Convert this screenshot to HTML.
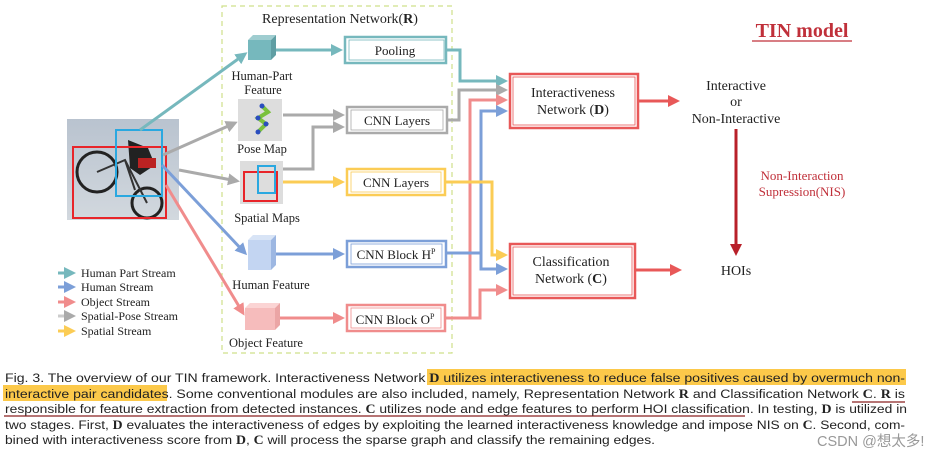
<!DOCTYPE html>
<html><head><meta charset="utf-8"><style>
html,body{margin:0;padding:0;background:#fff;width:946px;height:460px;overflow:hidden}
svg{display:block}
.s{font-family:"Liberation Serif",serif;fill:#222}
.c{font-family:"Liberation Sans","Noto Sans CJK SC",sans-serif;font-size:12.3px;fill:#222}
</style></head><body>
<svg width="946" height="460" viewBox="0 0 946 460" xmlns="http://www.w3.org/2000/svg">
<defs>
<marker id="at" markerWidth="4" markerHeight="4" refX="3" refY="2" orient="auto" markerUnits="strokeWidth"><path d="M0,0 L4,2 L0,4z" fill="#76b8bd"/></marker>
<marker id="ag" markerWidth="4" markerHeight="4" refX="3" refY="2" orient="auto" markerUnits="strokeWidth"><path d="M0,0 L4,2 L0,4z" fill="#aaa"/></marker>
<marker id="ab" markerWidth="4" markerHeight="4" refX="3" refY="2" orient="auto" markerUnits="strokeWidth"><path d="M0,0 L4,2 L0,4z" fill="#7c9fd8"/></marker>
<marker id="ap" markerWidth="4" markerHeight="4" refX="3" refY="2" orient="auto" markerUnits="strokeWidth"><path d="M0,0 L4,2 L0,4z" fill="#f08c8c"/></marker>
<marker id="ay" markerWidth="4" markerHeight="4" refX="3" refY="2" orient="auto" markerUnits="strokeWidth"><path d="M0,0 L4,2 L0,4z" fill="#fbcc55"/></marker>
<marker id="ar" markerWidth="4" markerHeight="4" refX="3" refY="2" orient="auto" markerUnits="strokeWidth"><path d="M0,0 L4,2 L0,4z" fill="#e85858"/></marker>
<marker id="ad" markerWidth="4" markerHeight="4" refX="3" refY="2" orient="auto" markerUnits="strokeWidth"><path d="M0,0 L4,2 L0,4z" fill="#b8202a"/></marker>
<linearGradient id="sky" x1="0" y1="0" x2="0" y2="1"><stop offset="0" stop-color="#b9c3cf"/><stop offset="1" stop-color="#d2d8de"/></linearGradient>
</defs>

<rect x="222" y="6" width="230" height="347" fill="none" stroke="#cfe08a" stroke-width="1.2" stroke-dasharray="5,4"/>
<text x="340" y="23" class="s" font-size="14" text-anchor="middle">Representation Network(<tspan font-weight="bold">R</tspan>)</text>

<rect x="67" y="119" width="112" height="101" fill="url(#sky)"/>
<circle cx="97" cy="172" r="20" fill="none" stroke="#222" stroke-width="3"/>
<circle cx="147" cy="203" r="15" fill="none" stroke="#222" stroke-width="3"/>
<path d="M97,172 L125,160 L147,203 M125,160 L135,190" stroke="#333" stroke-width="2" fill="none"/>
<path d="M128,140 L148,148 L155,165 L140,175 L130,168z" fill="#222"/>
<rect x="138" y="158" width="18" height="10" fill="#b22"/>
<rect x="73" y="147" width="93" height="71" fill="none" stroke="#e8252a" stroke-width="2"/>
<rect x="116" y="130" width="46" height="66" fill="none" stroke="#2aa8e0" stroke-width="2"/>

<g stroke-width="3" fill="none">
<line x1="140" y1="130" x2="245" y2="54" stroke="#76b8bd" marker-end="url(#at)"/>
<line x1="163" y1="155" x2="235" y2="123" stroke="#aaa" marker-end="url(#ag)"/>
<line x1="179" y1="170" x2="237" y2="181" stroke="#aaa" marker-end="url(#ag)"/>
<line x1="162" y1="165" x2="245" y2="253" stroke="#7c9fd8" marker-end="url(#ab)"/>
<line x1="166" y1="185" x2="243" y2="313" stroke="#f08c8c" marker-end="url(#ap)"/>
</g>

<g>
<path d="M248,40 L253,35 L276,35 L271,40z" fill="#9fcdd0"/>
<path d="M271,40 L276,35 L276,55 L271,60z" fill="#5f9ea3"/>
<rect x="248" y="40" width="23" height="20" fill="#76b8bd"/>
<text x="262" y="80" class="s" font-size="12.5" text-anchor="middle">Human-Part</text>
<text x="263" y="94" class="s" font-size="12.5" text-anchor="middle">Feature</text>

<rect x="238" y="99" width="44" height="42" fill="#ddd"/>
<path d="M262,106 L268,112 L258,118 L266,124 L258,132" stroke="#7ac13c" stroke-width="4" fill="none"/>
<circle cx="262" cy="106" r="2.5" fill="#2a4dbe"/><circle cx="258" cy="118" r="2.5" fill="#2a4dbe"/><circle cx="266" cy="124" r="2.5" fill="#2a4dbe"/><circle cx="258" cy="132" r="2.5" fill="#2a4dbe"/>
<text x="262" y="153" class="s" font-size="12.5" text-anchor="middle">Pose Map</text>

<rect x="240" y="161" width="43" height="43" fill="#ddd"/>
<rect x="244" y="172" width="33" height="29" fill="none" stroke="#e8252a" stroke-width="2"/>
<rect x="258" y="166" width="17" height="27" fill="none" stroke="#2aa8e0" stroke-width="2"/>
<text x="267" y="222" class="s" font-size="12.5" text-anchor="middle">Spatial Maps</text>

<path d="M248,240 L253,235 L276,235 L271,240z" fill="#d8e4f6"/>
<path d="M271,240 L276,235 L276,265 L271,270z" fill="#9db7e2"/>
<rect x="248" y="240" width="23" height="30" fill="#c3d5f2"/>
<text x="271" y="289" class="s" font-size="12.5" text-anchor="middle">Human Feature</text>

<path d="M245,308 L250,303 L280,303 L275,308z" fill="#fbd4d4"/>
<path d="M275,308 L280,303 L280,325 L275,330z" fill="#eba5a5"/>
<rect x="245" y="308" width="30" height="22" fill="#f6bcbc"/>
<text x="266" y="347" class="s" font-size="12.5" text-anchor="middle">Object Feature</text>
</g>

<g stroke-width="3" fill="none">
<line x1="276" y1="50" x2="340" y2="50" stroke="#76b8bd" marker-end="url(#at)"/>
<line x1="283" y1="115" x2="342" y2="115" stroke="#aaa" marker-end="url(#ag)"/>
<polyline points="283,169 313,169 313,127 342,127" stroke="#aaa" marker-end="url(#ag)"/>
<line x1="283" y1="182" x2="342" y2="182" stroke="#fbcc55" marker-end="url(#ay)"/>
<line x1="276" y1="254" x2="342" y2="254" stroke="#7c9fd8" marker-end="url(#ab)"/>
<line x1="280" y1="318" x2="342" y2="318" stroke="#f08c8c" marker-end="url(#ap)"/>
</g>

<g fill="#fff" stroke-width="2.5">
<rect x="345" y="37" width="101" height="26" stroke="#76b8bd"/>
<rect x="347" y="107" width="100" height="26" stroke="#aaa"/>
<rect x="347" y="169" width="98" height="26" stroke="#fbcc55"/>
<rect x="347" y="241" width="99" height="26" stroke="#7c9fd8"/>
<rect x="347" y="305" width="98" height="26" stroke="#f08c8c"/>
</g>
<g fill="none" stroke-width="0.8">
<rect x="349" y="40" width="95" height="20" stroke="#76b8bd"/>
<rect x="351" y="110" width="92" height="20" stroke="#aaa"/>
<rect x="351" y="172" width="90" height="20" stroke="#fbcc55"/>
<rect x="351" y="244" width="91" height="20" stroke="#7c9fd8"/>
<rect x="351" y="308" width="90" height="20" stroke="#f08c8c"/>
</g>
<g class="s" font-size="13" text-anchor="middle">
<text x="395" y="55">Pooling</text>
<text x="397" y="125">CNN Layers</text>
<text x="396" y="187">CNN Layers</text>
<text x="396" y="259">CNN Block H<tspan font-size="8" dy="-5">P</tspan></text>
<text x="395" y="324">CNN Block O<tspan font-size="8" dy="-5">P</tspan></text>
</g>

<g stroke-width="3" fill="none">
<polyline points="446,50 460,50 460,81 505,81" stroke="#76b8bd" marker-end="url(#at)"/>
<polyline points="447,120 459,120 459,90 505,90" stroke="#aaa" marker-end="url(#ag)"/>
<polyline points="445,318 470,318 470,100 505,100" stroke="#f08c8c" marker-end="url(#ap)"/>
<polyline points="470,318 480,318 480,290 505,290" stroke="#f08c8c" marker-end="url(#ap)"/>
<polyline points="446,253 481,253 481,111 505,111" stroke="#7c9fd8" marker-end="url(#ab)"/>
<polyline points="481,253 481,269 505,269" stroke="#7c9fd8" marker-end="url(#ab)"/>
<polyline points="445,182 492,182 492,255 505,255" stroke="#fbcc55" marker-end="url(#ay)"/>
</g>

<rect x="510" y="74" width="128" height="54" fill="#fff" stroke="#e85858" stroke-width="2.5"/>
<rect x="513" y="77" width="122" height="48" fill="none" stroke="#e85858" stroke-width="0.8"/>
<text x="573" y="97" class="s" font-size="14" text-anchor="middle">Interactiveness</text>
<text x="573" y="114" class="s" font-size="14" text-anchor="middle">Network (<tspan font-weight="bold">D</tspan>)</text>
<rect x="510" y="244" width="125" height="54" fill="#fff" stroke="#e85858" stroke-width="2.5"/>
<rect x="513" y="247" width="119" height="48" fill="none" stroke="#e85858" stroke-width="0.8"/>
<text x="571" y="266" class="s" font-size="14" text-anchor="middle">Classification</text>
<text x="571" y="283" class="s" font-size="14" text-anchor="middle">Network (<tspan font-weight="bold">C</tspan>)</text>

<line x1="638" y1="101" x2="677" y2="101" stroke="#e85858" stroke-width="3" marker-end="url(#ar)"/>
<line x1="635" y1="270" x2="679" y2="270" stroke="#e85858" stroke-width="3" marker-end="url(#ar)"/>
<line x1="736" y1="129" x2="736" y2="253" stroke="#b8202a" stroke-width="3" marker-end="url(#ad)"/>

<g class="s" font-size="14" text-anchor="middle">
<text x="736" y="90">Interactive</text>
<text x="736" y="106">or</text>
<text x="736" y="123">Non-Interactive</text>
<text x="736" y="275">HOIs</text>
</g>
<text x="802" y="180" class="s" font-size="13" text-anchor="middle" style="fill:#c0303a">Non-Interaction</text>
<text x="802" y="196" class="s" font-size="13" text-anchor="middle" style="fill:#c0303a">Supression(NIS)</text>
<text x="802" y="37" class="s" font-size="20" font-weight="bold" text-anchor="middle" style="fill:#c0303a">TIN model</text>
<line x1="752" y1="41" x2="852" y2="41" stroke="#c0303a" stroke-width="1.2"/>

<g stroke-width="3">
<line x1="58" y1="273" x2="73" y2="273" stroke="#76b8bd" marker-end="url(#at)"/>
<line x1="58" y1="287" x2="73" y2="287" stroke="#7c9fd8" marker-end="url(#ab)"/>
<line x1="58" y1="302" x2="73" y2="302" stroke="#f08c8c" marker-end="url(#ap)"/>
<line x1="58" y1="316" x2="73" y2="316" stroke="#ccc" marker-end="url(#ag)"/>
<line x1="58" y1="331" x2="73" y2="331" stroke="#fbcc55" marker-end="url(#ay)"/>
</g>
<g class="s" font-size="12">
<text x="81" y="277">Human Part Stream</text>
<text x="81" y="291">Human Stream</text>
<text x="81" y="306">Object Stream</text>
<text x="81" y="320">Spatial-Pose Stream</text>
<text x="81" y="335">Spatial Stream</text>
</g>

<rect x="427" y="369" width="479" height="16" fill="#fcc94a"/>
<rect x="3" y="385" width="164" height="16" fill="#fcc94a"/>
<line x1="852" y1="402" x2="905" y2="402" stroke="#8b2020" stroke-width="1.2"/>
<line x1="4" y1="416" x2="745" y2="416" stroke="#8b2020" stroke-width="1.2"/>
<text x="5" y="382" class="c" textLength="900" lengthAdjust="spacingAndGlyphs">Fig. 3. The overview of our TIN framework. Interactiveness Network <tspan font-family="Liberation Serif" font-weight="bold">D</tspan> utilizes interactiveness to reduce false positives caused by overmuch non-</text>
<text x="5" y="398" class="c" textLength="900" lengthAdjust="spacingAndGlyphs">interactive pair candidates. Some conventional modules are also included, namely, Representation Network <tspan font-family="Liberation Serif" font-weight="bold">R</tspan> and Classification Network <tspan font-family="Liberation Serif" font-weight="bold">C</tspan>. <tspan font-family="Liberation Serif" font-weight="bold">R</tspan> is</text>
<text x="5" y="413" class="c" textLength="902" lengthAdjust="spacingAndGlyphs">responsible for feature extraction from detected instances. <tspan font-family="Liberation Serif" font-weight="bold">C</tspan> utilizes node and edge features to perform HOI classification. In testing, <tspan font-family="Liberation Serif" font-weight="bold">D</tspan> is utilized in</text>
<text x="5" y="429" class="c" textLength="900" lengthAdjust="spacingAndGlyphs">two stages. First, <tspan font-family="Liberation Serif" font-weight="bold">D</tspan> evaluates the interactiveness of edges by exploiting the learned interactiveness knowledge and impose NIS on <tspan font-family="Liberation Serif" font-weight="bold">C</tspan>. Second, com-</text>
<text x="5" y="444" class="c" textLength="650" lengthAdjust="spacingAndGlyphs">bined with interactiveness score from <tspan font-family="Liberation Serif" font-weight="bold">D</tspan>, <tspan font-family="Liberation Serif" font-weight="bold">C</tspan> will process the sparse graph and classify the remaining edges.</text>
<text x="817" y="446" font-family="Liberation Sans,'Noto Sans CJK SC',sans-serif" font-size="14.5" fill="#999">CSDN @想太多!</text>
</svg>
</body></html>
